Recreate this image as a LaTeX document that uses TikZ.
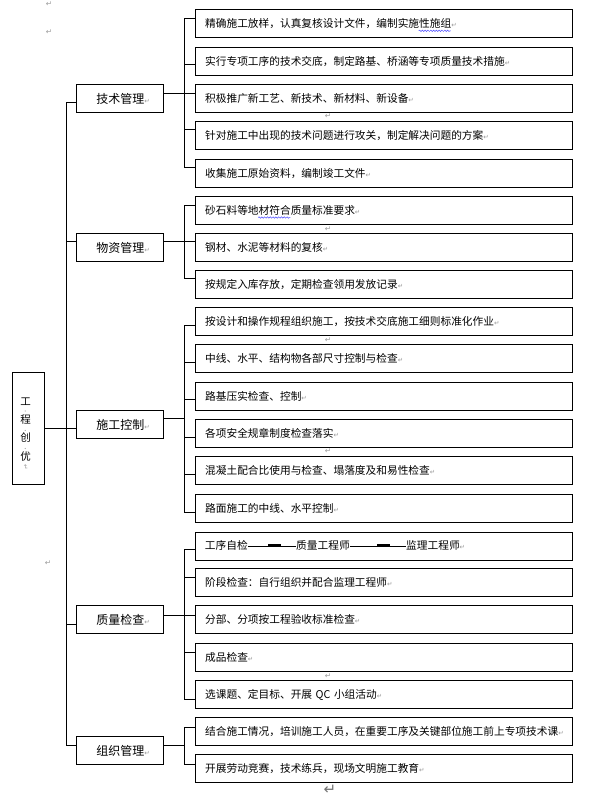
\documentclass[tikz,border=0pt]{standalone}
\usepackage{fontspec}
\newfontfamily\cjk{Noto Sans CJK SC}
\newfontfamily\dejavu{DejaVu Sans}
\usetikzlibrary{decorations.pathmorphing}
\newcommand\pmark{{\dejavu\fontsize{6.5}{6.5}\selectfont\textcolor{black!40}{↵}}}
\tikzset{
  box/.style={draw=black, line width=0.9pt, rectangle, inner sep=0pt, anchor=north west, minimum height=28pt},
  leaf/.style={box, minimum width=376.4pt, text width=376.4pt, align=left, font=\cjk\fontsize{10.7}{12}\selectfont},
  cat/.style={box, minimum width=86.3pt, text width=86.3pt, align=left, font=\cjk\fontsize{12}{14}\selectfont},
  link/.style={line width=0.9pt, draw=black},
  qtext/.style={inner sep=0pt, anchor=west, font=\cjk\fontsize{10.7}{12}\selectfont},
  blk/.style={fill=black, inner sep=0pt, minimum width=12.7pt, minimum height=3pt},
  freemark/.style={inner sep=0pt, font=\dejavu\fontsize{7.5}{7.5}\selectfont, text=black!40},
  squig/.style={draw=blue!70, line width=0.5pt, decorate, decoration={snake, amplitude=0.7pt, segment length=2.8pt}},
}
\begin{document}
\begin{tikzpicture}[x=1pt,y=-1pt]
\useasboundingbox (0,0) rectangle (590,801);
\fill[white] (0,0) rectangle (590,801);

% root
\node[box, minimum width=32pt, minimum height=112pt] (root) at (12.3,372.3) {};
\node[inner sep=0pt, align=center, font=\cjk\fontsize{10.5}{18.3}\selectfont] (rootlbl) at (25.5,429.2) {工\\程\\创\\优};
\node[freemark, rotate=-90, font=\dejavu\fontsize{6.5}{6.5}\selectfont] (rootmark) at (25.5,467.3) {↵};
\fill[black!35] (25.3,411) circle (0.6pt) (25.3,430.5) circle (0.6pt) (25.3,448.5) circle (0.6pt);

% categories
\node[cat] (c1) at (76.3,84.3)  {\hspace*{19.7pt}技术管理\pmark};
\node[cat] (c2) at (76.3,233.3) {\hspace*{19.7pt}物资管理\pmark};
\node[cat] (c3) at (76.3,410)   {\hspace*{19.7pt}施工控制\pmark};
\node[cat] (c4) at (76.3,605.3) {\hspace*{19.7pt}质量检查\pmark};
\node[cat] (c5) at (76.3,736.3) {\hspace*{19.7pt}组织管理\pmark};

% leaves: 技术管理
\node[leaf] (t1) at (195.3,9.3)   {\hspace*{9.4pt}精确施工放样，认真复核设计文件，编制实施性施组\pmark};
\node[leaf] (t2) at (195.3,46.7)  {\hspace*{9.4pt}实行专项工序的技术交底，制定路基、桥涵等专项质量技术措施\pmark};
\node[leaf] (t3) at (195.3,84.3)  {\hspace*{9.4pt}积极推广新工艺、新技术、新材料、新设备\pmark};
\node[leaf] (t4) at (195.3,121.3) {\hspace*{9.4pt}针对施工中出现的技术问题进行攻关，制定解决问题的方案\pmark};
\node[leaf] (t5) at (195.3,158.7) {\hspace*{9.4pt}收集施工原始资料，编制竣工文件\pmark};
% 物资管理
\node[leaf] (m1) at (195.3,195.7) {\hspace*{9.4pt}砂石料等地材符合质量标准要求\pmark};
\node[leaf] (m2) at (195.3,233.3) {\hspace*{9.4pt}钢材、水泥等材料的复核\pmark};
\node[leaf] (m3) at (195.3,270)   {\hspace*{9.4pt}按规定入库存放，定期检查领用发放记录\pmark};
% 施工控制
\node[leaf] (s1) at (195.3,307.3) {\hspace*{9.4pt}按设计和操作规程组织施工，按技术交底施工细则标准化作业\pmark};
\node[leaf] (s2) at (195.3,344.3) {\hspace*{9.4pt}中线、水平、结构物各部尺寸控制与检查\pmark};
\node[leaf] (s3) at (195.3,382.3) {\hspace*{9.4pt}路基压实检查、控制\pmark};
\node[leaf] (s4) at (195.3,419.3) {\hspace*{9.4pt}各项安全规章制度检查落实\pmark};
\node[leaf] (s5) at (195.3,456)   {\hspace*{9.4pt}混凝土配合比使用与检查、塌落度及和易性检查\pmark};
\node[leaf] (s6) at (195.3,494.3) {\hspace*{9.4pt}路面施工的中线、水平控制\pmark};
% 质量检查
\node[leaf] (q1) at (195.3,531.7) {};
\node[leaf] (q2) at (195.3,568.3) {\hspace*{9.4pt}阶段检查：自行组织并配合监理工程师\pmark};
\node[leaf] (q3) at (195.3,605.3) {\hspace*{9.4pt}分部、分项按工程验收标准检查\pmark};
\node[leaf] (q4) at (195.3,643.3) {\hspace*{9.4pt}成品检查\pmark};
\node[leaf] (q5) at (195.3,680.3) {\hspace*{9.4pt}选课题、定目标、开展 QC 小组活动\pmark};
% 组织管理
\node[leaf] (o1) at (195.3,717.3) {\hspace*{9.4pt}结合施工情况，培训施工人员，在重要工序及关键部位施工前上专项技术课\pmark};
\node[leaf] (o2) at (195.3,754.3) {\hspace*{9.4pt}开展劳动竞赛，技术练兵，现场文明施工教育\pmark};

% quality leaf 1 content
\node[qtext] (q1a) at (204.7,545.9) {工序自检};
\node[qtext] (q1b) at (296,545.9) {质量工程师};
\node[qtext] (q1c) at (406,545.9) {监理工程师\pmark};
\draw[line width=0.8pt] (q1a.east) -- node[blk, pos=0.55] (q1k1) {} (q1b.west);
\draw[line width=0.8pt] (q1b.east) -- node[blk, pos=0.6] (q1k2) {} (q1c.west);

% trunk
\coordinate (jtop) at (66.7,102.3);
\coordinate (jbot) at (66.7,745.3);
\draw[link] (c1.west |- jtop) -- (jtop) -- (jbot) -- (c5.west |- jbot);
\draw[link] (66.7,241.7) -- (c2.west |- 0,241.7);
\draw[link] (root.east |- 0,428.3) -- (c3.west |- 0,428.3);
\draw[link] (66.7,624.3) -- (c4.west |- 0,624.3);

% brackets
\draw[link] (t1.west |- 0,18.3) -- (184.3,18.3) -- (184.3,167.3) -- (t5.west |- 0,167.3);
\draw[link] (184.3,64.7) -- (t2.west |- 0,64.7);
\draw[link] (184.3,129.3) -- (t4.west |- 0,129.3);
\draw[link] (c1.east |- 0,93.7) -- (t3.west |- 0,93.7);

\draw[link] (m1.west |- 0,205) -- (184.3,205) -- (184.3,278.3) -- (m3.west |- 0,278.3);
\draw[link] (c2.east |- 0,241.7) -- (m2.west |- 0,241.7);

\draw[link] (s1.west |- 0,325.7) -- (184.3,325.7) -- (184.3,512.7) -- (s6.west |- 0,512.7);
\draw[link] (184.3,362.3) -- (s2.west |- 0,362.3);
\draw[link] (184.3,399.3) -- (s3.west |- 0,399.3);
\draw[link] (184.3,437.3) -- (s4.west |- 0,437.3);
\draw[link] (184.3,474) -- (s5.west |- 0,474);
\draw[link] (c3.east |- 0,418.7) -- (184.3,418.7);

\draw[link] (q1.west |- 0,549) -- (184.3,549) -- (184.3,699.3) -- (q5.west |- 0,699.3);
\draw[link] (184.3,577.7) -- (q2.west |- 0,577.7);
\draw[link] (184.3,652.3) -- (q4.west |- 0,652.3);
\draw[link] (c4.east |- 0,615.3) -- (q3.west |- 0,615.3);

\draw[link] (o1.west |- 0,727) -- (184.3,727) -- (184.3,764) -- (o2.west |- 0,764);
\draw[link] (c5.east |- 0,745.3) -- (184.3,745.3);

% spell-check squiggles
\draw[squig] (418.7,30.8) -- (450.8,30.8);
\draw[squig] (258.2,217.5) -- (290.3,217.5);

% free paragraph marks
\node[freemark] (r1) at (49,4.5) {↵};
\node[freemark] (r2) at (49,32.3) {↵};
\node[freemark] (r3) at (48,563.3) {↵};
\node[freemark] (r4) at (328,116.5) {↵};
\node[freemark] (r5) at (328,229) {↵};
\node[freemark] (r6) at (328,340) {↵};
\node[freemark] (r7) at (328,451.5) {↵};
\node[freemark] (r8) at (328,675.8) {↵};
\node[freemark, font=\dejavu\fontsize{15}{15}\selectfont, text=black!55] (r9) at (330,790) {↵};
\end{tikzpicture}
\end{document}
